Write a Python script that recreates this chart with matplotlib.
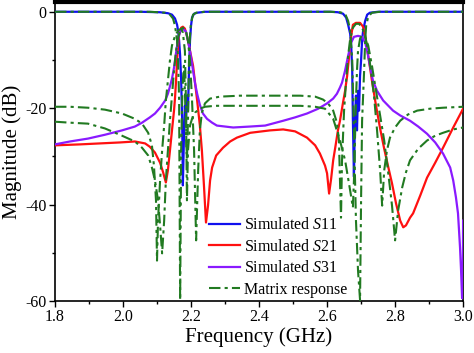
import matplotlib
matplotlib.use('Agg')
import matplotlib.pyplot as plt
from matplotlib.ticker import MultipleLocator

plt.rcParams['font.family'] = ['Liberation Serif', 'DejaVu Serif']
plt.rcParams['mathtext.fontset'] = 'custom'
plt.rcParams['mathtext.rm'] = 'Liberation Serif'
plt.rcParams['mathtext.it'] = 'Liberation Serif:italic'
plt.rcParams['axes.unicode_minus'] = False

# Simulated S11
f_s11 = [1.800, 2.050, 2.109, 2.132, 2.144, 2.153, 2.159, 2.162, 2.165, 2.168,
         2.171, 2.174, 2.176, 2.179, 2.182, 2.185, 2.188, 2.191, 2.194, 2.197,
         2.200, 2.203, 2.209, 2.218, 2.241, 2.609, 2.632, 2.647, 2.656, 2.662,
         2.668, 2.671, 2.674, 2.676, 2.679, 2.682, 2.685, 2.688, 2.691, 2.694,
         2.697, 2.700, 2.703, 2.706, 2.712, 2.718, 2.726, 2.750, 3.000]
s11 = [0.0, 0.0, -0.1, -0.3, -0.6, -1.4, -2.7, -3.9, -6.0, -9.1,
       -14.3, -22.6, -36.0, -26.7, -19.5, -23.6, -17.4, -20.5, -12.2, -6.0,
       -2.9, -1.2, -0.4, -0.2, 0.0, 0.0, -0.1, -0.4, -1.2, -2.7,
       -4.6, -7.0, -12.2, -22.6, -34.2, -22.6, -17.4, -24.6, -16.4, -20.5,
       -13.3, -10.1, -6.0, -3.9, -1.9, -0.6, -0.2, 0.0, 0.0]

# Simulated S21
f_s21 = [1.800, 1.874, 1.932, 1.991, 2.035, 2.065, 2.079, 2.094, 2.109, 2.118,
         2.126, 2.132, 2.138, 2.144, 2.150, 2.153, 2.156, 2.159, 2.162, 2.165,
         2.171, 2.176, 2.182, 2.188, 2.194, 2.197, 2.206, 2.218, 2.226, 2.232,
         2.238, 2.244, 2.250, 2.256, 2.262, 2.274, 2.294, 2.315, 2.335, 2.374,
         2.432, 2.471, 2.506, 2.541, 2.565, 2.579, 2.594, 2.600, 2.606, 2.612,
         2.618, 2.624, 2.632, 2.638, 2.647, 2.653, 2.659, 2.665, 2.671, 2.676,
         2.685, 2.697, 2.706, 2.712, 2.721, 2.732, 2.744, 2.756, 2.768, 2.779,
         2.791, 2.803, 2.815, 2.824, 2.832, 2.844, 2.853, 2.874, 2.894, 2.918,
         2.941, 2.971, 3.000]
s21 = [-27.7, -27.5, -27.3, -27.1, -26.9, -27.3, -28.0, -29.2, -31.3, -33.3,
       -35.4, -32.9, -28.8, -24.6, -20.5, -17.8, -14.3, -10.1, -7.0, -4.6,
       -3.3, -3.1, -3.5, -5.0, -7.0, -8.1, -11.2, -18.4, -23.6, -28.8,
       -36.0, -43.7, -40.2, -35.0, -32.3, -29.8, -28.2, -26.9, -26.1, -25.1,
       -24.6, -24.4, -24.8, -26.1, -27.7, -29.4, -31.9, -33.5, -37.7, -34.6,
       -30.8, -28.2, -24.6, -22.6, -18.8, -16.4, -13.3, -9.1, -5.0, -2.7,
       -2.3, -2.3, -3.1, -5.0, -9.1, -14.3, -19.5, -24.2, -28.4, -31.9,
       -35.6, -39.8, -43.3, -44.7, -44.3, -42.7, -41.8, -38.1, -34.4, -31.3,
       -28.2, -24.0, -20.1]

# Simulated S31
f_s31 = [1.800, 1.844, 1.897, 1.947, 1.997, 2.035, 2.056, 2.079, 2.094, 2.109,
         2.124, 2.132, 2.138, 2.144, 2.150, 2.156, 2.162, 2.168, 2.176, 2.185,
         2.191, 2.197, 2.206, 2.212, 2.218, 2.226, 2.235, 2.247, 2.262, 2.276,
         2.300, 2.324, 2.374, 2.418, 2.471, 2.506, 2.541, 2.574, 2.600, 2.618,
         2.629, 2.638, 2.644, 2.653, 2.662, 2.671, 2.679, 2.691, 2.703, 2.712,
         2.718, 2.726, 2.735, 2.747, 2.765, 2.794, 2.815, 2.844, 2.868, 2.894,
         2.918, 2.941, 2.962, 2.971, 2.979, 2.985, 2.988, 2.991, 2.994, 2.997,
         2.999, 3.000]
s31 = [-27.5, -26.9, -26.3, -25.5, -24.6, -23.8, -23.0, -21.9, -21.1, -19.9,
       -18.4, -17.0, -15.5, -13.9, -11.6, -8.5, -5.6, -4.1, -3.5, -4.1,
       -6.0, -8.1, -12.2, -14.9, -17.0, -19.3, -21.1, -22.2, -23.0, -23.6,
       -23.8, -24.0, -23.8, -23.6, -22.6, -21.9, -21.1, -20.1, -19.0, -18.0,
       -17.0, -15.7, -14.7, -12.2, -9.1, -6.4, -5.2, -5.0, -5.2, -6.4,
       -8.1, -11.2, -14.3, -16.4, -18.4, -20.5, -21.5, -22.6, -23.8, -25.3,
       -27.1, -29.4, -32.3, -35.0, -38.5, -41.8, -45.3, -48.9, -53.6, -59.4,
       -59.4, -43.3]

# Matrix response: S11
f_m11 = [1.800, 2.079, 2.124, 2.138, 2.147, 2.153, 2.159, 2.162, 2.165, 2.168,
         2.171, 2.174, 2.176, 2.179, 2.182, 2.185, 2.188, 2.191, 2.194, 2.197,
         2.200, 2.206, 2.215, 2.241, 2.609, 2.638, 2.653, 2.662, 2.668, 2.674,
         2.679, 2.685, 2.691, 2.697, 2.700, 2.703, 2.709, 2.712, 2.715, 2.721,
         2.732, 2.756, 3.000]
m11 = [0.0, 0.0, -0.2, -0.6, -1.4, -2.9, -6.0, -10.1, -18.4, -59.8,
       -28.8, -18.4, -14.3, -11.2, -16.4, -24.6, -30.8, -22.6, -10.1, -5.0,
       -2.3, -0.6, -0.2, 0.0, 0.0, -0.1, -0.4, -1.9, -3.9, -10.1,
       -24.6, -43.3, -53.6, -59.8, -39.1, -22.6, -12.2, -6.0, -2.9, -1.0,
       -0.2, 0.0, 0.0]

# Matrix response: first transmission curve
f_ma = [1.800, 1.844, 1.897, 1.947, 1.997, 2.035, 2.056, 2.074, 2.085, 2.094,
        2.103, 2.109, 2.115, 2.121, 2.126, 2.132, 2.138, 2.144, 2.150, 2.156,
        2.162, 2.168, 2.176, 2.185, 2.191, 2.197, 2.203, 2.209, 2.215, 2.221,
        2.226, 2.232, 2.241, 2.256, 2.285, 2.344, 2.521, 2.565, 2.588, 2.603,
        2.618, 2.629, 2.635, 2.638, 2.641, 2.644, 2.650, 2.656, 2.662, 2.668,
        2.676, 2.685, 2.694, 2.703, 2.712, 2.721, 2.729, 2.738, 2.747, 2.756,
        2.762, 2.768, 2.776, 2.785, 2.800, 2.815, 2.838, 2.865, 2.903, 2.941,
        3.000]
ma = [-22.8, -23.0, -23.2, -24.2, -25.7, -26.9, -28.2, -29.8, -32.3, -35.0,
      -39.1, -44.3, -50.1, -43.3, -35.0, -28.8, -22.6, -17.4, -12.2, -8.1,
      -5.4, -3.9, -3.3, -3.9, -6.0, -10.1, -18.4, -28.8, -47.4, -32.9,
      -24.6, -20.9, -19.0, -18.0, -17.6, -17.4, -17.4, -17.6, -18.2, -19.0,
      -20.5, -23.0, -26.7, -35.0, -42.7, -30.8, -20.5, -14.3, -9.1, -5.6,
      -3.3, -2.5, -2.5, -3.3, -5.0, -8.1, -12.2, -17.4, -24.6, -32.9,
      -40.2, -32.9, -28.8, -26.1, -24.0, -22.6, -21.3, -20.5, -20.1, -19.9,
      -19.7]

# Matrix response: second transmission curve
f_mb = [1.800, 1.844, 1.897, 1.947, 1.997, 2.035, 2.056, 2.074, 2.085, 2.091,
        2.097, 2.100, 2.103, 2.109, 2.115, 2.121, 2.126, 2.132, 2.138, 2.144,
        2.153, 2.162, 2.171, 2.176, 2.182, 2.185, 2.188, 2.191, 2.197, 2.203,
        2.212, 2.226, 2.241, 2.271, 2.521, 2.565, 2.594, 2.618, 2.638, 2.653,
        2.668, 2.676, 2.679, 2.682, 2.685, 2.688, 2.691, 2.697, 2.703, 2.712,
        2.721, 2.732, 2.744, 2.756, 2.768, 2.779, 2.791, 2.800, 2.809, 2.821,
        2.832, 2.844, 2.868, 2.894, 2.918, 2.941, 2.971, 3.000]
mb = [-19.7, -19.7, -19.9, -20.3, -21.1, -22.2, -23.2, -25.1, -27.7, -31.9,
      -39.1, -51.6, -43.3, -35.0, -28.8, -23.6, -18.4, -14.3, -10.1, -7.0,
      -5.0, -3.9, -3.5, -4.3, -8.1, -18.4, -39.1, -28.8, -23.6, -22.2,
      -20.9, -20.1, -19.7, -19.5, -19.5, -19.7, -20.1, -22.2, -26.7, -30.8,
      -37.1, -40.6, -35.0, -26.7, -18.4, -12.2, -8.1, -5.6, -4.8, -5.2,
      -7.0, -11.2, -16.4, -21.5, -26.7, -32.9, -40.2, -47.4, -41.2, -36.4,
      -33.3, -30.8, -28.4, -26.7, -25.7, -25.1, -24.4, -24.0]

fig = plt.figure(figsize=(4.74, 3.53), dpi=100)
ax = fig.add_axes([0.116, 0.147, 0.861, 0.847])

green = '#217a21'
dd = (0, (5.5, 2, 1.5, 2))

ax.plot(f_s11, s11, color='#1010ee', lw=1.6, label='Simulated $S$11', zorder=3)
ax.plot(f_s21, s21, color='#ff1010', lw=1.6, label='Simulated $S$21', zorder=3)
ax.plot(f_s31, s31, color='#8a1aff', lw=1.6, label='Simulated $S$31', zorder=3)
ax.plot(f_m11, m11, color=green, lw=1.5, ls=dd, label='Matrix response', zorder=4)
ax.plot(f_ma, ma, color=green, lw=1.5, ls=dd, zorder=4)
ax.plot(f_mb, mb, color=green, lw=1.5, ls=dd, zorder=4)

ax.set_xlim(1.8, 3.0)
ax.set_ylim(-60, 2)
ax.xaxis.set_minor_locator(MultipleLocator(0.1))
ax.yaxis.set_major_locator(MultipleLocator(20))
ax.yaxis.set_minor_locator(MultipleLocator(10))
ax.set_xticks([1.8, 2.0, 2.2, 2.4, 2.6, 2.8, 3.0])
ax.set_xticklabels(['1.8', '2.0', '2.2', '2.4', '2.6', '2.8', '3.0'])
ax.tick_params(which='major', direction='out', length=4, width=1, labelsize=11.5, pad=2)
ax.tick_params(which='minor', direction='out', length=2.5, width=1)
for s in ax.spines.values():
    s.set_linewidth(1.2)
ax.spines['top'].set_linewidth(3)

ax.set_xlabel('Frequency (GHz)', fontsize=15, labelpad=1)
ax.set_ylabel('Magnitude (dB)', fontsize=15, labelpad=2)

ax.legend(loc='lower left', bbox_to_anchor=(0.37, 0.0), frameon=False,
          fontsize=11.5, handlelength=1.9, handletextpad=0.3,
          labelspacing=0.35, borderpad=0.2, borderaxespad=0.0)

fig.savefig('out.png', dpi=100)
